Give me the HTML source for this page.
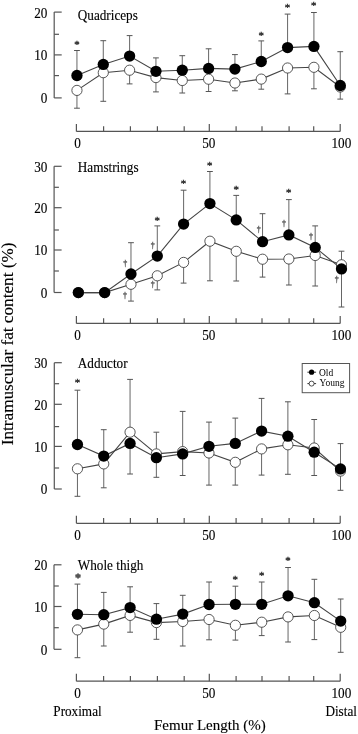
<!DOCTYPE html>
<html><head><meta charset="utf-8"><title>Intramuscular fat content</title>
<style>
html,body{margin:0;padding:0;background:#fff;}
body{width:358px;height:734px;overflow:hidden;}
svg{display:block;}
text{font-family:'Liberation Serif', 'Times New Roman', serif;fill:#111;}
.t{font-size:13.2px;fill:#000;stroke:#000;stroke-width:0.12px;}
.s{font-size:10.8px;fill:#333;stroke:#333;stroke-width:0.4px;}
.s2{font-size:11px;fill:#555;stroke:#555;stroke-width:1px;}
.d{font-size:8px;fill:#555;stroke:#555;stroke-width:0.3px;}
.lg{font-size:9.5px;fill:#000;}
.big{font-size:17.2px;fill:#000;stroke:#000;stroke-width:0.12px;}
.big2{font-size:15px;fill:#000;stroke:#000;stroke-width:0.12px;}
</style></head>
<body>
<svg width="358" height="734" viewBox="0 0 358 734">
<rect width="358" height="734" fill="#fff"/>
<path d="M54.2 12.1V97.9" stroke="#555" stroke-width="1.2" fill="none"/>
<path d="M54.2 97.9H61.7" stroke="#555" stroke-width="1.2"/>
<text transform="translate(47.4 103.3) scale(1 1.1)" text-anchor="end" class="t">0</text>
<path d="M54.2 75.6H59" stroke="#555" stroke-width="1.2"/>
<path d="M54.2 54.9H61.7" stroke="#555" stroke-width="1.2"/>
<text transform="translate(47.4 60.3) scale(1 1.1)" text-anchor="end" class="t">10</text>
<path d="M54.2 34.3H59" stroke="#555" stroke-width="1.2"/>
<path d="M54.2 12.1H61.7" stroke="#555" stroke-width="1.2"/>
<text transform="translate(47.4 17.5) scale(1 1.1)" text-anchor="end" class="t">20</text>
<path d="M76.4 131.4H340.2" stroke="#555" stroke-width="1.2" fill="none"/>
<path d="M76.4 131.4V123.9" stroke="#555" stroke-width="1.2"/>
<text transform="translate(77.6 147.9) scale(1 1.1)" text-anchor="middle" class="t">0</text>
<path d="M103.6 131.4V126.2" stroke="#555" stroke-width="1.2"/>
<path d="M130.4 131.4V126.2" stroke="#555" stroke-width="1.2"/>
<path d="M157.4 131.4V126.2" stroke="#555" stroke-width="1.2"/>
<path d="M184.2 131.4V126.2" stroke="#555" stroke-width="1.2"/>
<path d="M209.3 131.4V123.9" stroke="#555" stroke-width="1.2"/>
<text transform="translate(208.8 147.9) scale(1 1.1)" text-anchor="middle" class="t">50</text>
<path d="M236.1 131.4V126.2" stroke="#555" stroke-width="1.2"/>
<path d="M262 131.4V126.2" stroke="#555" stroke-width="1.2"/>
<path d="M289.1 131.4V126.2" stroke="#555" stroke-width="1.2"/>
<path d="M313.7 131.4V126.2" stroke="#555" stroke-width="1.2"/>
<path d="M340.2 131.4V123.9" stroke="#555" stroke-width="1.2"/>
<text transform="translate(341.4 147.9) scale(1 1.1)" text-anchor="middle" class="t">100</text>
<text transform="translate(77.8 20.1) scale(1 1.1)" class="t">Quadriceps</text>
<path d="M76.95 75.5V50.5" stroke="#666" stroke-width="1.0"/>
<path d="M74.05 50.5H79.85" stroke="#555" stroke-width="1"/>
<path d="M76.95 90.4V108.2" stroke="#666" stroke-width="1.0"/>
<path d="M74.05 108.2H79.85" stroke="#555" stroke-width="1"/>
<path d="M103.28 64.4V40.7" stroke="#666" stroke-width="1.0"/>
<path d="M100.38 40.7H106.18" stroke="#555" stroke-width="1"/>
<path d="M103.28 72.7V101.3" stroke="#666" stroke-width="1.0"/>
<path d="M100.38 101.3H106.18" stroke="#555" stroke-width="1"/>
<path d="M129.61 56.1V35.6" stroke="#666" stroke-width="1.0"/>
<path d="M126.71 35.6H132.51" stroke="#555" stroke-width="1"/>
<path d="M129.61 70.2V83.9" stroke="#666" stroke-width="1.0"/>
<path d="M126.71 83.9H132.51" stroke="#555" stroke-width="1"/>
<path d="M155.94 71.3V57.9" stroke="#666" stroke-width="1.0"/>
<path d="M153.04 57.9H158.84" stroke="#555" stroke-width="1"/>
<path d="M155.94 77.6V91.9" stroke="#666" stroke-width="1.0"/>
<path d="M153.04 91.9H158.84" stroke="#555" stroke-width="1"/>
<path d="M182.27 70.2V55.7" stroke="#666" stroke-width="1.0"/>
<path d="M179.37 55.7H185.17" stroke="#555" stroke-width="1"/>
<path d="M182.27 80.5V93" stroke="#666" stroke-width="1.0"/>
<path d="M179.37 93H185.17" stroke="#555" stroke-width="1"/>
<path d="M208.6 68.4V48.8" stroke="#666" stroke-width="1.0"/>
<path d="M205.7 48.8H211.5" stroke="#555" stroke-width="1"/>
<path d="M208.6 79.2V91.5" stroke="#666" stroke-width="1.0"/>
<path d="M205.7 91.5H211.5" stroke="#555" stroke-width="1"/>
<path d="M234.93 69.1V54.6" stroke="#666" stroke-width="1.0"/>
<path d="M232.03 54.6H237.83" stroke="#555" stroke-width="1"/>
<path d="M234.93 83V90.8" stroke="#666" stroke-width="1.0"/>
<path d="M232.03 90.8H237.83" stroke="#555" stroke-width="1"/>
<path d="M261.26 61.5V40.9" stroke="#666" stroke-width="1.0"/>
<path d="M258.36 40.9H264.16" stroke="#555" stroke-width="1"/>
<path d="M261.26 79.1V89.2" stroke="#666" stroke-width="1.0"/>
<path d="M258.36 89.2H264.16" stroke="#555" stroke-width="1"/>
<path d="M287.59 47.6V14.1" stroke="#666" stroke-width="1.0"/>
<path d="M284.69 14.1H290.49" stroke="#555" stroke-width="1"/>
<path d="M287.59 68V93.9" stroke="#666" stroke-width="1.0"/>
<path d="M284.69 93.9H290.49" stroke="#555" stroke-width="1"/>
<path d="M313.92 46.4V12.5" stroke="#666" stroke-width="1.0"/>
<path d="M311.02 12.5H316.82" stroke="#555" stroke-width="1"/>
<path d="M313.92 67.3V88.8" stroke="#666" stroke-width="1.0"/>
<path d="M311.02 88.8H316.82" stroke="#555" stroke-width="1"/>
<path d="M340.25 85.5V51.7" stroke="#666" stroke-width="1.0"/>
<path d="M337.35 51.7H343.15" stroke="#555" stroke-width="1"/>
<path d="M340.25 85.5V99.1" stroke="#666" stroke-width="1.0"/>
<path d="M337.35 99.1H343.15" stroke="#555" stroke-width="1"/>
<polyline points="76.95,90.4 103.28,72.7 129.61,70.2 155.94,77.6 182.27,80.5 208.6,79.2 234.93,83 261.26,79.1 287.59,68 313.92,67.3 340.25,87" fill="none" stroke="#444" stroke-width="1.1"/>
<polyline points="76.95,75.5 103.28,64.4 129.61,56.1 155.94,71.3 182.27,70.2 208.6,68.4 234.93,69.1 261.26,61.5 287.59,47.6 313.92,46.4 340.25,85.5" fill="none" stroke="#444" stroke-width="1.1"/>
<circle cx="76.95" cy="90.4" r="5.1" fill="#fff" stroke="#3a3a3a" stroke-width="0.85"/>
<circle cx="103.28" cy="72.7" r="5.1" fill="#fff" stroke="#3a3a3a" stroke-width="0.85"/>
<circle cx="129.61" cy="70.2" r="5.1" fill="#fff" stroke="#3a3a3a" stroke-width="0.85"/>
<circle cx="155.94" cy="77.6" r="5.1" fill="#fff" stroke="#3a3a3a" stroke-width="0.85"/>
<circle cx="182.27" cy="80.5" r="5.1" fill="#fff" stroke="#3a3a3a" stroke-width="0.85"/>
<circle cx="208.6" cy="79.2" r="5.1" fill="#fff" stroke="#3a3a3a" stroke-width="0.85"/>
<circle cx="234.93" cy="83" r="5.1" fill="#fff" stroke="#3a3a3a" stroke-width="0.85"/>
<circle cx="261.26" cy="79.1" r="5.1" fill="#fff" stroke="#3a3a3a" stroke-width="0.85"/>
<circle cx="287.59" cy="68" r="5.1" fill="#fff" stroke="#3a3a3a" stroke-width="0.85"/>
<circle cx="313.92" cy="67.3" r="5.1" fill="#fff" stroke="#3a3a3a" stroke-width="0.85"/>
<circle cx="340.25" cy="87" r="5.1" fill="#fff" stroke="#3a3a3a" stroke-width="0.85"/>
<circle cx="76.95" cy="75.5" r="5.65" fill="#000"/>
<circle cx="103.28" cy="64.4" r="5.65" fill="#000"/>
<circle cx="129.61" cy="56.1" r="5.65" fill="#000"/>
<circle cx="155.94" cy="71.3" r="5.65" fill="#000"/>
<circle cx="182.27" cy="70.2" r="5.65" fill="#000"/>
<circle cx="208.6" cy="68.4" r="5.65" fill="#000"/>
<circle cx="234.93" cy="69.1" r="5.65" fill="#000"/>
<circle cx="261.26" cy="61.5" r="5.65" fill="#000"/>
<circle cx="287.59" cy="47.6" r="5.65" fill="#000"/>
<circle cx="313.92" cy="46.4" r="5.65" fill="#000"/>
<circle cx="340.25" cy="85.5" r="5.65" fill="#000"/>
<text x="76.85" y="47.8" text-anchor="middle" class="s">*</text>
<text x="261.16" y="38.6" text-anchor="middle" class="s">*</text>
<text x="287.49" y="10.7" text-anchor="middle" class="s">*</text>
<text x="313.82" y="8.5" text-anchor="middle" class="s">*</text>
<path d="M54.1 166.3V292.5" stroke="#555" stroke-width="1.2" fill="none"/>
<path d="M54.1 292.5H61.6" stroke="#555" stroke-width="1.2"/>
<text transform="translate(47.4 297.9) scale(1 1.1)" text-anchor="end" class="t">0</text>
<path d="M54.1 271H58.9" stroke="#555" stroke-width="1.2"/>
<path d="M54.1 250H61.6" stroke="#555" stroke-width="1.2"/>
<text transform="translate(47.4 255.4) scale(1 1.1)" text-anchor="end" class="t">10</text>
<path d="M54.1 230H58.9" stroke="#555" stroke-width="1.2"/>
<path d="M54.1 207.7H61.6" stroke="#555" stroke-width="1.2"/>
<text transform="translate(47.4 213.1) scale(1 1.1)" text-anchor="end" class="t">20</text>
<path d="M54.1 187.3H58.9" stroke="#555" stroke-width="1.2"/>
<path d="M54.1 166.3H61.6" stroke="#555" stroke-width="1.2"/>
<text transform="translate(47.4 171.7) scale(1 1.1)" text-anchor="end" class="t">30</text>
<path d="M76.4 323.4H340.2" stroke="#555" stroke-width="1.2" fill="none"/>
<path d="M76.4 323.4V315.9" stroke="#555" stroke-width="1.2"/>
<text transform="translate(77.6 339.9) scale(1 1.1)" text-anchor="middle" class="t">0</text>
<path d="M103.6 323.4V318.2" stroke="#555" stroke-width="1.2"/>
<path d="M130.4 323.4V318.2" stroke="#555" stroke-width="1.2"/>
<path d="M157.4 323.4V318.2" stroke="#555" stroke-width="1.2"/>
<path d="M184.2 323.4V318.2" stroke="#555" stroke-width="1.2"/>
<path d="M209.3 323.4V315.9" stroke="#555" stroke-width="1.2"/>
<text transform="translate(208.8 339.9) scale(1 1.1)" text-anchor="middle" class="t">50</text>
<path d="M236.1 323.4V318.2" stroke="#555" stroke-width="1.2"/>
<path d="M262 323.4V318.2" stroke="#555" stroke-width="1.2"/>
<path d="M289.1 323.4V318.2" stroke="#555" stroke-width="1.2"/>
<path d="M313.7 323.4V318.2" stroke="#555" stroke-width="1.2"/>
<path d="M340.2 323.4V315.9" stroke="#555" stroke-width="1.2"/>
<text transform="translate(341.4 339.9) scale(1 1.1)" text-anchor="middle" class="t">100</text>
<text transform="translate(77.8 172.4) scale(1 1.1)" class="t">Hamstrings</text>
<path d="M130.98 274V242.7" stroke="#666" stroke-width="1.0"/>
<path d="M128.08 242.7H133.88" stroke="#555" stroke-width="1"/>
<path d="M130.98 284.3V301.1" stroke="#666" stroke-width="1.0"/>
<path d="M128.08 301.1H133.88" stroke="#555" stroke-width="1"/>
<path d="M157.29 256.1V225.9" stroke="#666" stroke-width="1.0"/>
<path d="M154.39 225.9H160.19" stroke="#555" stroke-width="1"/>
<path d="M157.29 275.8V289.9" stroke="#666" stroke-width="1.0"/>
<path d="M154.39 289.9H160.19" stroke="#555" stroke-width="1"/>
<path d="M183.61 224.1V190.2" stroke="#666" stroke-width="1.0"/>
<path d="M180.71 190.2H186.51" stroke="#555" stroke-width="1"/>
<path d="M183.61 262.4V283.1" stroke="#666" stroke-width="1.0"/>
<path d="M180.71 283.1H186.51" stroke="#555" stroke-width="1"/>
<path d="M209.92 203.6V171.5" stroke="#666" stroke-width="1.0"/>
<path d="M207.02 171.5H212.82" stroke="#555" stroke-width="1"/>
<path d="M209.92 241.2V280.8" stroke="#666" stroke-width="1.0"/>
<path d="M207.02 280.8H212.82" stroke="#555" stroke-width="1"/>
<path d="M236.24 219.9V195.4" stroke="#666" stroke-width="1.0"/>
<path d="M233.34 195.4H239.14" stroke="#555" stroke-width="1"/>
<path d="M236.24 251.3V281" stroke="#666" stroke-width="1.0"/>
<path d="M233.34 281H239.14" stroke="#555" stroke-width="1"/>
<path d="M262.55 241.7V213.7" stroke="#666" stroke-width="1.0"/>
<path d="M259.65 213.7H265.45" stroke="#555" stroke-width="1"/>
<path d="M262.55 259.2V277.1" stroke="#666" stroke-width="1.0"/>
<path d="M259.65 277.1H265.45" stroke="#555" stroke-width="1"/>
<path d="M288.87 234.9V199.6" stroke="#666" stroke-width="1.0"/>
<path d="M285.97 199.6H291.77" stroke="#555" stroke-width="1"/>
<path d="M288.87 259V285" stroke="#666" stroke-width="1.0"/>
<path d="M285.97 285H291.77" stroke="#555" stroke-width="1"/>
<path d="M315.18 247.4V225.9" stroke="#666" stroke-width="1.0"/>
<path d="M312.28 225.9H318.08" stroke="#555" stroke-width="1"/>
<path d="M315.18 255.5V286" stroke="#666" stroke-width="1.0"/>
<path d="M312.28 286H318.08" stroke="#555" stroke-width="1"/>
<path d="M341.5 268.9V251.2" stroke="#666" stroke-width="1.0"/>
<path d="M338.6 251.2H344.4" stroke="#555" stroke-width="1"/>
<path d="M341.5 264.8V307" stroke="#666" stroke-width="1.0"/>
<path d="M338.6 307H344.4" stroke="#555" stroke-width="1"/>
<polyline points="78.35,292.6 104.66,292.6 130.98,284.3 157.29,275.8 183.61,262.4 209.92,241.2 236.24,251.3 262.55,259.2 288.87,259 315.18,255.5 341.5,264.8" fill="none" stroke="#444" stroke-width="1.1"/>
<polyline points="78.35,292.6 104.66,292.6 130.98,274 157.29,256.1 183.61,224.1 209.92,203.6 236.24,219.9 262.55,241.7 288.87,234.9 315.18,247.4 341.5,268.9" fill="none" stroke="#444" stroke-width="1.1"/>
<circle cx="78.35" cy="292.6" r="5.1" fill="#fff" stroke="#3a3a3a" stroke-width="0.85"/>
<circle cx="104.66" cy="292.6" r="5.1" fill="#fff" stroke="#3a3a3a" stroke-width="0.85"/>
<circle cx="130.98" cy="284.3" r="5.1" fill="#fff" stroke="#3a3a3a" stroke-width="0.85"/>
<circle cx="157.29" cy="275.8" r="5.1" fill="#fff" stroke="#3a3a3a" stroke-width="0.85"/>
<circle cx="183.61" cy="262.4" r="5.1" fill="#fff" stroke="#3a3a3a" stroke-width="0.85"/>
<circle cx="209.92" cy="241.2" r="5.1" fill="#fff" stroke="#3a3a3a" stroke-width="0.85"/>
<circle cx="236.24" cy="251.3" r="5.1" fill="#fff" stroke="#3a3a3a" stroke-width="0.85"/>
<circle cx="262.55" cy="259.2" r="5.1" fill="#fff" stroke="#3a3a3a" stroke-width="0.85"/>
<circle cx="288.87" cy="259" r="5.1" fill="#fff" stroke="#3a3a3a" stroke-width="0.85"/>
<circle cx="315.18" cy="255.5" r="5.1" fill="#fff" stroke="#3a3a3a" stroke-width="0.85"/>
<circle cx="341.5" cy="264.8" r="5.1" fill="#fff" stroke="#3a3a3a" stroke-width="0.85"/>
<circle cx="78.35" cy="292.6" r="5.65" fill="#000"/>
<circle cx="104.66" cy="292.6" r="5.65" fill="#000"/>
<circle cx="130.98" cy="274" r="5.65" fill="#000"/>
<circle cx="157.29" cy="256.1" r="5.65" fill="#000"/>
<circle cx="183.61" cy="224.1" r="5.65" fill="#000"/>
<circle cx="209.92" cy="203.6" r="5.65" fill="#000"/>
<circle cx="236.24" cy="219.9" r="5.65" fill="#000"/>
<circle cx="262.55" cy="241.7" r="5.65" fill="#000"/>
<circle cx="288.87" cy="234.9" r="5.65" fill="#000"/>
<circle cx="315.18" cy="247.4" r="5.65" fill="#000"/>
<circle cx="341.5" cy="268.9" r="5.65" fill="#000"/>
<text x="157.19" y="223.6" text-anchor="middle" class="s">*</text>
<text x="183.51" y="186.8" text-anchor="middle" class="s">*</text>
<text x="209.82" y="168.5" text-anchor="middle" class="s">*</text>
<text x="236.14" y="192.6" text-anchor="middle" class="s">*</text>
<text x="288.77" y="196.3" text-anchor="middle" class="s">*</text>
<text x="125.3" y="265.7" text-anchor="middle" class="d">†</text>
<text x="152.8" y="247.8" text-anchor="middle" class="d">†</text>
<text x="258.8" y="231.5" text-anchor="middle" class="d">†</text>
<text x="284.1" y="225.5" text-anchor="middle" class="d">†</text>
<text x="310.9" y="238.8" text-anchor="middle" class="d">†</text>
<text x="125" y="297.7" text-anchor="middle" class="d">†</text>
<text x="152.8" y="286.9" text-anchor="middle" class="d">†</text>
<text x="336.8" y="281.6" text-anchor="middle" class="d">†</text>
<path d="M54.3 362.7V489" stroke="#555" stroke-width="1.2" fill="none"/>
<path d="M54.3 489H61.8" stroke="#555" stroke-width="1.2"/>
<text transform="translate(47.4 494.4) scale(1 1.1)" text-anchor="end" class="t">0</text>
<path d="M54.3 468H59.1" stroke="#555" stroke-width="1.2"/>
<path d="M54.3 446.4H61.8" stroke="#555" stroke-width="1.2"/>
<text transform="translate(47.4 451.8) scale(1 1.1)" text-anchor="end" class="t">10</text>
<path d="M54.3 426.6H59.1" stroke="#555" stroke-width="1.2"/>
<path d="M54.3 404.3H61.8" stroke="#555" stroke-width="1.2"/>
<text transform="translate(47.4 409.7) scale(1 1.1)" text-anchor="end" class="t">20</text>
<path d="M54.3 383.7H59.1" stroke="#555" stroke-width="1.2"/>
<path d="M54.3 362.7H61.8" stroke="#555" stroke-width="1.2"/>
<text transform="translate(47.4 368.1) scale(1 1.1)" text-anchor="end" class="t">30</text>
<path d="M76.4 523.3H340.2" stroke="#555" stroke-width="1.2" fill="none"/>
<path d="M76.4 523.3V515.8" stroke="#555" stroke-width="1.2"/>
<text transform="translate(77.6 539.8) scale(1 1.1)" text-anchor="middle" class="t">0</text>
<path d="M103.6 523.3V518.1" stroke="#555" stroke-width="1.2"/>
<path d="M130.4 523.3V518.1" stroke="#555" stroke-width="1.2"/>
<path d="M157.4 523.3V518.1" stroke="#555" stroke-width="1.2"/>
<path d="M184.2 523.3V518.1" stroke="#555" stroke-width="1.2"/>
<path d="M209.3 523.3V515.8" stroke="#555" stroke-width="1.2"/>
<text transform="translate(208.8 539.8) scale(1 1.1)" text-anchor="middle" class="t">50</text>
<path d="M236.1 523.3V518.1" stroke="#555" stroke-width="1.2"/>
<path d="M262 523.3V518.1" stroke="#555" stroke-width="1.2"/>
<path d="M289.1 523.3V518.1" stroke="#555" stroke-width="1.2"/>
<path d="M313.7 523.3V518.1" stroke="#555" stroke-width="1.2"/>
<path d="M340.2 523.3V515.8" stroke="#555" stroke-width="1.2"/>
<text transform="translate(341.4 539.8) scale(1 1.1)" text-anchor="middle" class="t">100</text>
<text transform="translate(77.8 367.9) scale(1 1.1)" class="t">Adductor</text>
<path d="M77.45 444.5V390.2" stroke="#666" stroke-width="1.0"/>
<path d="M74.55 390.2H80.35" stroke="#555" stroke-width="1"/>
<path d="M77.45 468.8V496.3" stroke="#666" stroke-width="1.0"/>
<path d="M74.55 496.3H80.35" stroke="#555" stroke-width="1"/>
<path d="M103.75 456.1V429.7" stroke="#666" stroke-width="1.0"/>
<path d="M100.85 429.7H106.66" stroke="#555" stroke-width="1"/>
<path d="M103.75 463.9V487.8" stroke="#666" stroke-width="1.0"/>
<path d="M100.85 487.8H106.66" stroke="#555" stroke-width="1"/>
<path d="M130.06 432.2V379.4" stroke="#666" stroke-width="1.0"/>
<path d="M127.16 379.4H132.96" stroke="#555" stroke-width="1"/>
<path d="M130.06 443.4V474" stroke="#666" stroke-width="1.0"/>
<path d="M127.16 474H132.96" stroke="#555" stroke-width="1"/>
<path d="M156.37 453.9V432.2" stroke="#666" stroke-width="1.0"/>
<path d="M153.47 432.2H159.27" stroke="#555" stroke-width="1"/>
<path d="M156.37 457.7V477.3" stroke="#666" stroke-width="1.0"/>
<path d="M153.47 477.3H159.27" stroke="#555" stroke-width="1"/>
<path d="M182.67 451.6V411.4" stroke="#666" stroke-width="1.0"/>
<path d="M179.77 411.4H185.57" stroke="#555" stroke-width="1"/>
<path d="M182.67 453.9V475.5" stroke="#666" stroke-width="1.0"/>
<path d="M179.77 475.5H185.57" stroke="#555" stroke-width="1"/>
<path d="M208.98 446.3V422.1" stroke="#666" stroke-width="1.0"/>
<path d="M206.08 422.1H211.88" stroke="#555" stroke-width="1"/>
<path d="M208.98 453V485.1" stroke="#666" stroke-width="1.0"/>
<path d="M206.08 485.1H211.88" stroke="#555" stroke-width="1"/>
<path d="M235.28 443.4V418.1" stroke="#666" stroke-width="1.0"/>
<path d="M232.38 418.1H238.18" stroke="#555" stroke-width="1"/>
<path d="M235.28 462.3V485.1" stroke="#666" stroke-width="1.0"/>
<path d="M232.38 485.1H238.18" stroke="#555" stroke-width="1"/>
<path d="M261.59 431.1V398.4" stroke="#666" stroke-width="1.0"/>
<path d="M258.69 398.4H264.49" stroke="#555" stroke-width="1"/>
<path d="M261.59 448.9V475.1" stroke="#666" stroke-width="1.0"/>
<path d="M258.69 475.1H264.49" stroke="#555" stroke-width="1"/>
<path d="M287.89 436.2V401.8" stroke="#666" stroke-width="1.0"/>
<path d="M284.99 401.8H290.79" stroke="#555" stroke-width="1"/>
<path d="M287.89 444.8V474.3" stroke="#666" stroke-width="1.0"/>
<path d="M284.99 474.3H290.79" stroke="#555" stroke-width="1"/>
<path d="M314.2 448V419.5" stroke="#666" stroke-width="1.0"/>
<path d="M311.3 419.5H317.1" stroke="#555" stroke-width="1"/>
<path d="M314.2 452.2V475.5" stroke="#666" stroke-width="1.0"/>
<path d="M311.3 475.5H317.1" stroke="#555" stroke-width="1"/>
<path d="M340.5 468.9V443.6" stroke="#666" stroke-width="1.0"/>
<path d="M337.6 443.6H343.4" stroke="#555" stroke-width="1"/>
<path d="M340.5 471.1V490.3" stroke="#666" stroke-width="1.0"/>
<path d="M337.6 490.3H343.4" stroke="#555" stroke-width="1"/>
<polyline points="77.45,468.8 103.75,463.9 130.06,432.2 156.37,453.9 182.67,451.6 208.98,453 235.28,462.3 261.59,448.9 287.89,444.8 314.2,448 340.5,471.1" fill="none" stroke="#444" stroke-width="1.1"/>
<polyline points="77.45,444.5 103.75,456.1 130.06,443.4 156.37,457.7 182.67,453.9 208.98,446.3 235.28,443.4 261.59,431.1 287.89,436.2 314.2,452.2 340.5,468.9" fill="none" stroke="#444" stroke-width="1.1"/>
<circle cx="77.45" cy="468.8" r="5.1" fill="#fff" stroke="#3a3a3a" stroke-width="0.85"/>
<circle cx="103.75" cy="463.9" r="5.1" fill="#fff" stroke="#3a3a3a" stroke-width="0.85"/>
<circle cx="130.06" cy="432.2" r="5.1" fill="#fff" stroke="#3a3a3a" stroke-width="0.85"/>
<circle cx="156.37" cy="453.9" r="5.1" fill="#fff" stroke="#3a3a3a" stroke-width="0.85"/>
<circle cx="182.67" cy="451.6" r="5.1" fill="#fff" stroke="#3a3a3a" stroke-width="0.85"/>
<circle cx="208.98" cy="453" r="5.1" fill="#fff" stroke="#3a3a3a" stroke-width="0.85"/>
<circle cx="235.28" cy="462.3" r="5.1" fill="#fff" stroke="#3a3a3a" stroke-width="0.85"/>
<circle cx="261.59" cy="448.9" r="5.1" fill="#fff" stroke="#3a3a3a" stroke-width="0.85"/>
<circle cx="287.89" cy="444.8" r="5.1" fill="#fff" stroke="#3a3a3a" stroke-width="0.85"/>
<circle cx="314.2" cy="448" r="5.1" fill="#fff" stroke="#3a3a3a" stroke-width="0.85"/>
<circle cx="340.5" cy="471.1" r="5.1" fill="#fff" stroke="#3a3a3a" stroke-width="0.85"/>
<circle cx="77.45" cy="444.5" r="5.65" fill="#000"/>
<circle cx="103.75" cy="456.1" r="5.65" fill="#000"/>
<circle cx="130.06" cy="443.4" r="5.65" fill="#000"/>
<circle cx="156.37" cy="457.7" r="5.65" fill="#000"/>
<circle cx="182.67" cy="453.9" r="5.65" fill="#000"/>
<circle cx="208.98" cy="446.3" r="5.65" fill="#000"/>
<circle cx="235.28" cy="443.4" r="5.65" fill="#000"/>
<circle cx="261.59" cy="431.1" r="5.65" fill="#000"/>
<circle cx="287.89" cy="436.2" r="5.65" fill="#000"/>
<circle cx="314.2" cy="452.2" r="5.65" fill="#000"/>
<circle cx="340.5" cy="468.9" r="5.65" fill="#000"/>
<text x="77.35" y="386.3" text-anchor="middle" class="s">*</text>
<rect x="302.2" y="363.5" width="47.4" height="29.2" fill="#fff" stroke="#555" stroke-width="1"/>
<path d="M307.4 372.2H316.1" stroke="#333" stroke-width="1"/>
<circle cx="311.6" cy="372.2" r="2.6" fill="#000"/>
<path d="M307.4 383.6H316.1" stroke="#333" stroke-width="1"/>
<circle cx="311.6" cy="383.6" r="2.5" fill="#fff" stroke="#222" stroke-width="0.8"/>
<text transform="translate(319 375.6) scale(1 1.1)" class="lg">Old</text>
<text transform="translate(319.6 385.8) scale(1 1.1)" class="lg">Young</text>
<path d="M54 564.8V649.3" stroke="#555" stroke-width="1.2" fill="none"/>
<path d="M54 649.3H61.5" stroke="#555" stroke-width="1.2"/>
<text transform="translate(47.4 654.7) scale(1 1.1)" text-anchor="end" class="t">0</text>
<path d="M54 627.7H58.8" stroke="#555" stroke-width="1.2"/>
<path d="M54 606.5H61.5" stroke="#555" stroke-width="1.2"/>
<text transform="translate(47.4 611.9) scale(1 1.1)" text-anchor="end" class="t">10</text>
<path d="M54 586H58.8" stroke="#555" stroke-width="1.2"/>
<path d="M54 564.8H61.5" stroke="#555" stroke-width="1.2"/>
<text transform="translate(47.4 570.2) scale(1 1.1)" text-anchor="end" class="t">20</text>
<path d="M76.4 681.2H340.2" stroke="#555" stroke-width="1.2" fill="none"/>
<path d="M76.4 681.2V673.7" stroke="#555" stroke-width="1.2"/>
<text transform="translate(77.6 697.7) scale(1 1.1)" text-anchor="middle" class="t">0</text>
<path d="M103.6 681.2V676" stroke="#555" stroke-width="1.2"/>
<path d="M130.4 681.2V676" stroke="#555" stroke-width="1.2"/>
<path d="M157.4 681.2V676" stroke="#555" stroke-width="1.2"/>
<path d="M184.2 681.2V676" stroke="#555" stroke-width="1.2"/>
<path d="M209.3 681.2V673.7" stroke="#555" stroke-width="1.2"/>
<text transform="translate(208.8 697.7) scale(1 1.1)" text-anchor="middle" class="t">50</text>
<path d="M236.1 681.2V676" stroke="#555" stroke-width="1.2"/>
<path d="M262 681.2V676" stroke="#555" stroke-width="1.2"/>
<path d="M289.1 681.2V676" stroke="#555" stroke-width="1.2"/>
<path d="M313.7 681.2V676" stroke="#555" stroke-width="1.2"/>
<path d="M340.2 681.2V673.7" stroke="#555" stroke-width="1.2"/>
<text transform="translate(341.4 697.7) scale(1 1.1)" text-anchor="middle" class="t">100</text>
<text transform="translate(77.8 569.5) scale(1 1.1)" class="t">Whole thigh</text>
<path d="M77.45 614.3V584.1" stroke="#666" stroke-width="1.0"/>
<path d="M74.55 584.1H80.35" stroke="#555" stroke-width="1"/>
<path d="M77.45 629.9V657.7" stroke="#666" stroke-width="1.0"/>
<path d="M74.55 657.7H80.35" stroke="#555" stroke-width="1"/>
<path d="M103.78 614.7V592.4" stroke="#666" stroke-width="1.0"/>
<path d="M100.88 592.4H106.68" stroke="#555" stroke-width="1"/>
<path d="M103.78 624.1V646" stroke="#666" stroke-width="1.0"/>
<path d="M100.88 646H106.68" stroke="#555" stroke-width="1"/>
<path d="M130.1 607.6V586.8" stroke="#666" stroke-width="1.0"/>
<path d="M127.2 586.8H133" stroke="#555" stroke-width="1"/>
<path d="M130.1 615.4V632.2" stroke="#666" stroke-width="1.0"/>
<path d="M127.2 632.2H133" stroke="#555" stroke-width="1"/>
<path d="M156.43 619.2V603.6" stroke="#666" stroke-width="1.0"/>
<path d="M153.53 603.6H159.33" stroke="#555" stroke-width="1"/>
<path d="M156.43 622.6V639.3" stroke="#666" stroke-width="1.0"/>
<path d="M153.53 639.3H159.33" stroke="#555" stroke-width="1"/>
<path d="M182.75 614.1V595.3" stroke="#666" stroke-width="1.0"/>
<path d="M179.85 595.3H185.65" stroke="#555" stroke-width="1"/>
<path d="M182.75 621.5V646" stroke="#666" stroke-width="1.0"/>
<path d="M179.85 646H185.65" stroke="#555" stroke-width="1"/>
<path d="M209.07 604.5V582" stroke="#666" stroke-width="1.0"/>
<path d="M206.17 582H211.97" stroke="#555" stroke-width="1"/>
<path d="M209.07 619.5V639.8" stroke="#666" stroke-width="1.0"/>
<path d="M206.17 639.8H211.97" stroke="#555" stroke-width="1"/>
<path d="M235.4 604.3V586.2" stroke="#666" stroke-width="1.0"/>
<path d="M232.5 586.2H238.3" stroke="#555" stroke-width="1"/>
<path d="M235.4 625.3V640.1" stroke="#666" stroke-width="1.0"/>
<path d="M232.5 640.1H238.3" stroke="#555" stroke-width="1"/>
<path d="M261.73 604.3V582" stroke="#666" stroke-width="1.0"/>
<path d="M258.83 582H264.62" stroke="#555" stroke-width="1"/>
<path d="M261.73 622.2V635.6" stroke="#666" stroke-width="1.0"/>
<path d="M258.83 635.6H264.62" stroke="#555" stroke-width="1"/>
<path d="M288.05 595.8V567.5" stroke="#666" stroke-width="1.0"/>
<path d="M285.15 567.5H290.95" stroke="#555" stroke-width="1"/>
<path d="M288.05 616.9V642" stroke="#666" stroke-width="1.0"/>
<path d="M285.15 642H290.95" stroke="#555" stroke-width="1"/>
<path d="M314.38 602.7V579.3" stroke="#666" stroke-width="1.0"/>
<path d="M311.48 579.3H317.27" stroke="#555" stroke-width="1"/>
<path d="M314.38 615.5V639.6" stroke="#666" stroke-width="1.0"/>
<path d="M311.48 639.6H317.27" stroke="#555" stroke-width="1"/>
<path d="M340.7 621.1V599" stroke="#666" stroke-width="1.0"/>
<path d="M337.8 599H343.6" stroke="#555" stroke-width="1"/>
<path d="M340.7 627.3V652.3" stroke="#666" stroke-width="1.0"/>
<path d="M337.8 652.3H343.6" stroke="#555" stroke-width="1"/>
<polyline points="77.45,629.9 103.78,624.1 130.1,615.4 156.43,622.6 182.75,621.5 209.07,619.5 235.4,625.3 261.73,622.2 288.05,616.9 314.38,615.5 340.7,627.3" fill="none" stroke="#444" stroke-width="1.1"/>
<polyline points="77.45,614.3 103.78,614.7 130.1,607.6 156.43,619.2 182.75,614.1 209.07,604.5 235.4,604.3 261.73,604.3 288.05,595.8 314.38,602.7 340.7,621.1" fill="none" stroke="#444" stroke-width="1.1"/>
<circle cx="77.45" cy="629.9" r="5.1" fill="#fff" stroke="#3a3a3a" stroke-width="0.85"/>
<circle cx="103.78" cy="624.1" r="5.1" fill="#fff" stroke="#3a3a3a" stroke-width="0.85"/>
<circle cx="130.1" cy="615.4" r="5.1" fill="#fff" stroke="#3a3a3a" stroke-width="0.85"/>
<circle cx="156.43" cy="622.6" r="5.1" fill="#fff" stroke="#3a3a3a" stroke-width="0.85"/>
<circle cx="182.75" cy="621.5" r="5.1" fill="#fff" stroke="#3a3a3a" stroke-width="0.85"/>
<circle cx="209.07" cy="619.5" r="5.1" fill="#fff" stroke="#3a3a3a" stroke-width="0.85"/>
<circle cx="235.4" cy="625.3" r="5.1" fill="#fff" stroke="#3a3a3a" stroke-width="0.85"/>
<circle cx="261.73" cy="622.2" r="5.1" fill="#fff" stroke="#3a3a3a" stroke-width="0.85"/>
<circle cx="288.05" cy="616.9" r="5.1" fill="#fff" stroke="#3a3a3a" stroke-width="0.85"/>
<circle cx="314.38" cy="615.5" r="5.1" fill="#fff" stroke="#3a3a3a" stroke-width="0.85"/>
<circle cx="340.7" cy="627.3" r="5.1" fill="#fff" stroke="#3a3a3a" stroke-width="0.85"/>
<circle cx="77.45" cy="614.3" r="5.65" fill="#000"/>
<circle cx="103.78" cy="614.7" r="5.65" fill="#000"/>
<circle cx="130.1" cy="607.6" r="5.65" fill="#000"/>
<circle cx="156.43" cy="619.2" r="5.65" fill="#000"/>
<circle cx="182.75" cy="614.1" r="5.65" fill="#000"/>
<circle cx="209.07" cy="604.5" r="5.65" fill="#000"/>
<circle cx="235.4" cy="604.3" r="5.65" fill="#000"/>
<circle cx="261.73" cy="604.3" r="5.65" fill="#000"/>
<circle cx="288.05" cy="595.8" r="5.65" fill="#000"/>
<circle cx="314.38" cy="602.7" r="5.65" fill="#000"/>
<circle cx="340.7" cy="621.1" r="5.65" fill="#000"/>
<text x="77.9" y="581.4" text-anchor="middle" class="s2">*</text>
<text x="235.3" y="583" text-anchor="middle" class="s">*</text>
<text x="261.62" y="578.6" text-anchor="middle" class="s">*</text>
<text x="287.95" y="563.5" text-anchor="middle" class="s">*</text>
<text transform="translate(53.3 716.1) scale(1 1.1)" class="t">Proximal</text>
<text transform="translate(356.9 716) scale(1 1.1)" text-anchor="end" class="t">Distal</text>
<text x="154" y="729.6" class="big2">Femur Length (%)</text>
<text transform="translate(13.4 343.9) rotate(-90) scale(1 1.03)" text-anchor="middle" class="big">Intramuscular fat content (%)</text>
</svg>
</body></html>
